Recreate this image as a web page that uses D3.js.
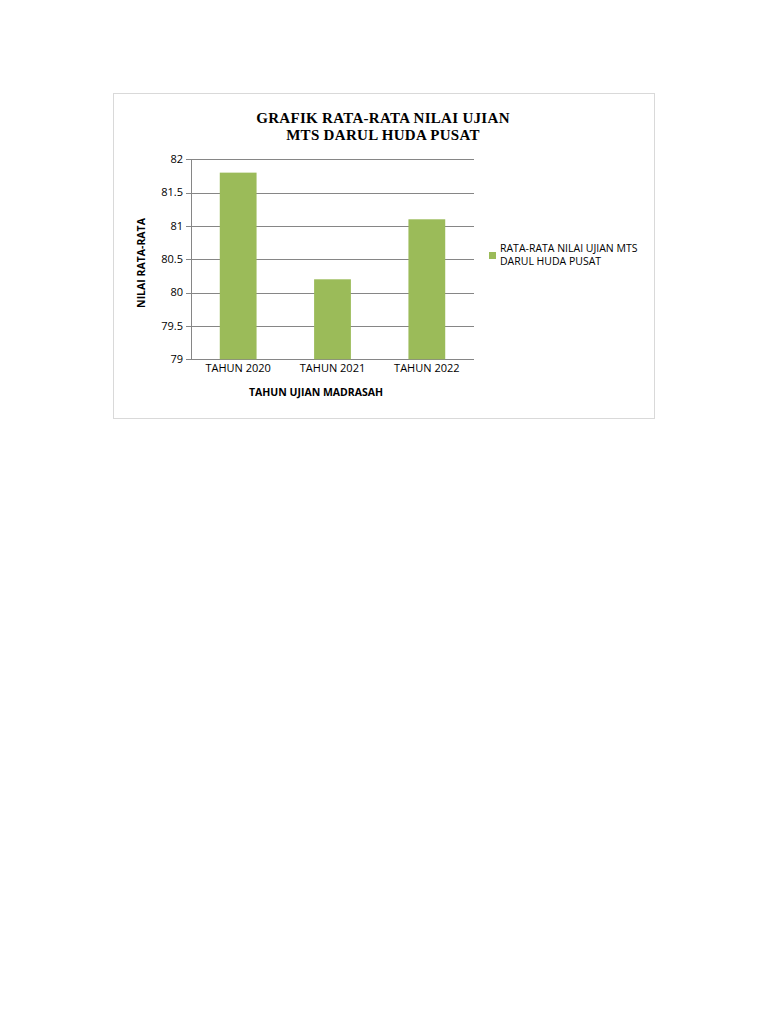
<!DOCTYPE html>
<html lang="en">
<head>
<meta charset="utf-8">
<title>Grafik Rata-rata Nilai Ujian</title>
<script src="https://cdn.jsdelivr.net/npm/d3@7"></script>
<style>
body{margin:0;background:#fff;}
svg text{font-family:"Open Sans","Liberation Sans",sans-serif;fill:#000;}
</style>
</head>
<body>
<div id="chart"></div>
<script>
var categories = ["TAHUN 2020", "TAHUN 2021", "TAHUN 2022"];
var values = [81.8, 80.2, 81.1];
var yTicks = [79, 79.5, 80, 80.5, 81, 81.5, 82];
var seriesName = ["RATA-RATA NILAI UJIAN MTS", "DARUL HUDA PUSAT"];
var titleLines = ["GRAFIK RATA-RATA NILAI UJIAN", "MTS DARUL HUDA PUSAT"];

var svg = d3.select("#chart").append("svg")
    .attr("width", 768)
    .attr("height", 1024);

// chart frame
svg.append("rect")
    .attr("x", 113.5).attr("y", 93.5)
    .attr("width", 541).attr("height", 325)
    .attr("fill", "#fff")
    .attr("stroke", "#d9d9d9");

// plot area (window.top is taken, so no plain "top")
var plotLeft = 191, plotRight = 474, plotTop = 159.3, plotBottom = 359.3;

var x = d3.scaleBand().domain(categories).range([plotLeft, plotRight]).paddingInner(0.61).paddingOuter(0.305);
var y = d3.scaleLinear().domain([79, 82]).range([plotBottom, plotTop]);

// gridlines
svg.append("g").selectAll("line").data(yTicks).enter().append("line")
    .attr("x1", plotLeft - 5).attr("x2", plotRight)
    .attr("y1", function(d){ return Math.round(y(d)) + 0.5; })
    .attr("y2", function(d){ return Math.round(y(d)) + 0.5; })
    .attr("stroke", "#868686");

// bars
svg.append("g").selectAll("rect").data(values).enter().append("rect")
    .attr("x", function(d, i){ return x(categories[i]); })
    .attr("y", function(d){ return y(d); })
    .attr("width", x.bandwidth())
    .attr("height", function(d){ return plotBottom - y(d); })
    .attr("fill", "#9bbb59");

// y axis line
svg.append("line")
    .attr("x1", plotLeft + 0.5).attr("x2", plotLeft + 0.5)
    .attr("y1", plotTop).attr("y2", plotBottom + 0.5)
    .attr("stroke", "#868686");

// y tick labels
svg.append("g").selectAll("text").data(yTicks).enter().append("text")
    .attr("x", plotLeft - 8)
    .attr("y", function(d){ return y(d); })
    .attr("dy", "0.35em")
    .attr("text-anchor", "end")
    .attr("font-size", 11)
    .text(function(d){ return d; });

// x labels
svg.append("g").selectAll("text").data(categories).enter().append("text")
    .attr("x", function(d){ return x(d) + x.bandwidth() / 2; })
    .attr("y", plotBottom + 13)
    .attr("text-anchor", "middle")
    .attr("font-size", 11)
    .text(function(d){ return d; });

// title
svg.append("g").selectAll("text").data(titleLines).enter().append("text")
    .attr("x", 383)
    .attr("y", function(d, i){ return 123 + i * 17; })
    .attr("text-anchor", "middle")
    .attr("font-size", 15)
    .attr("font-weight", "bold")
    .attr("letter-spacing", 0.3)
    .style("font-family", "'Liberation Serif','DejaVu Serif',serif")
    .text(function(d){ return d; });

// axis titles
svg.append("text")
    .attr("x", 316).attr("y", 396)
    .attr("text-anchor", "middle")
    .attr("font-size", 10.5)
    .attr("font-weight", "bold")
    .text("TAHUN UJIAN MADRASAH");

svg.append("text")
    .attr("transform", "translate(145,263) rotate(-90)")
    .attr("text-anchor", "middle")
    .attr("font-size", 10.5)
    .attr("font-weight", "bold")
    .text("NILAI RATA-RATA");

// legend
svg.append("rect")
    .attr("x", 489).attr("y", 252)
    .attr("width", 7).attr("height", 7)
    .attr("fill", "#9bbb59");

svg.append("g").selectAll("text").data(seriesName).enter().append("text")
    .attr("x", 500)
    .attr("y", function(d, i){ return 252 + i * 13; })
    .attr("font-size", 10.5)
    .text(function(d){ return d; });
</script>
</body>
</html>
